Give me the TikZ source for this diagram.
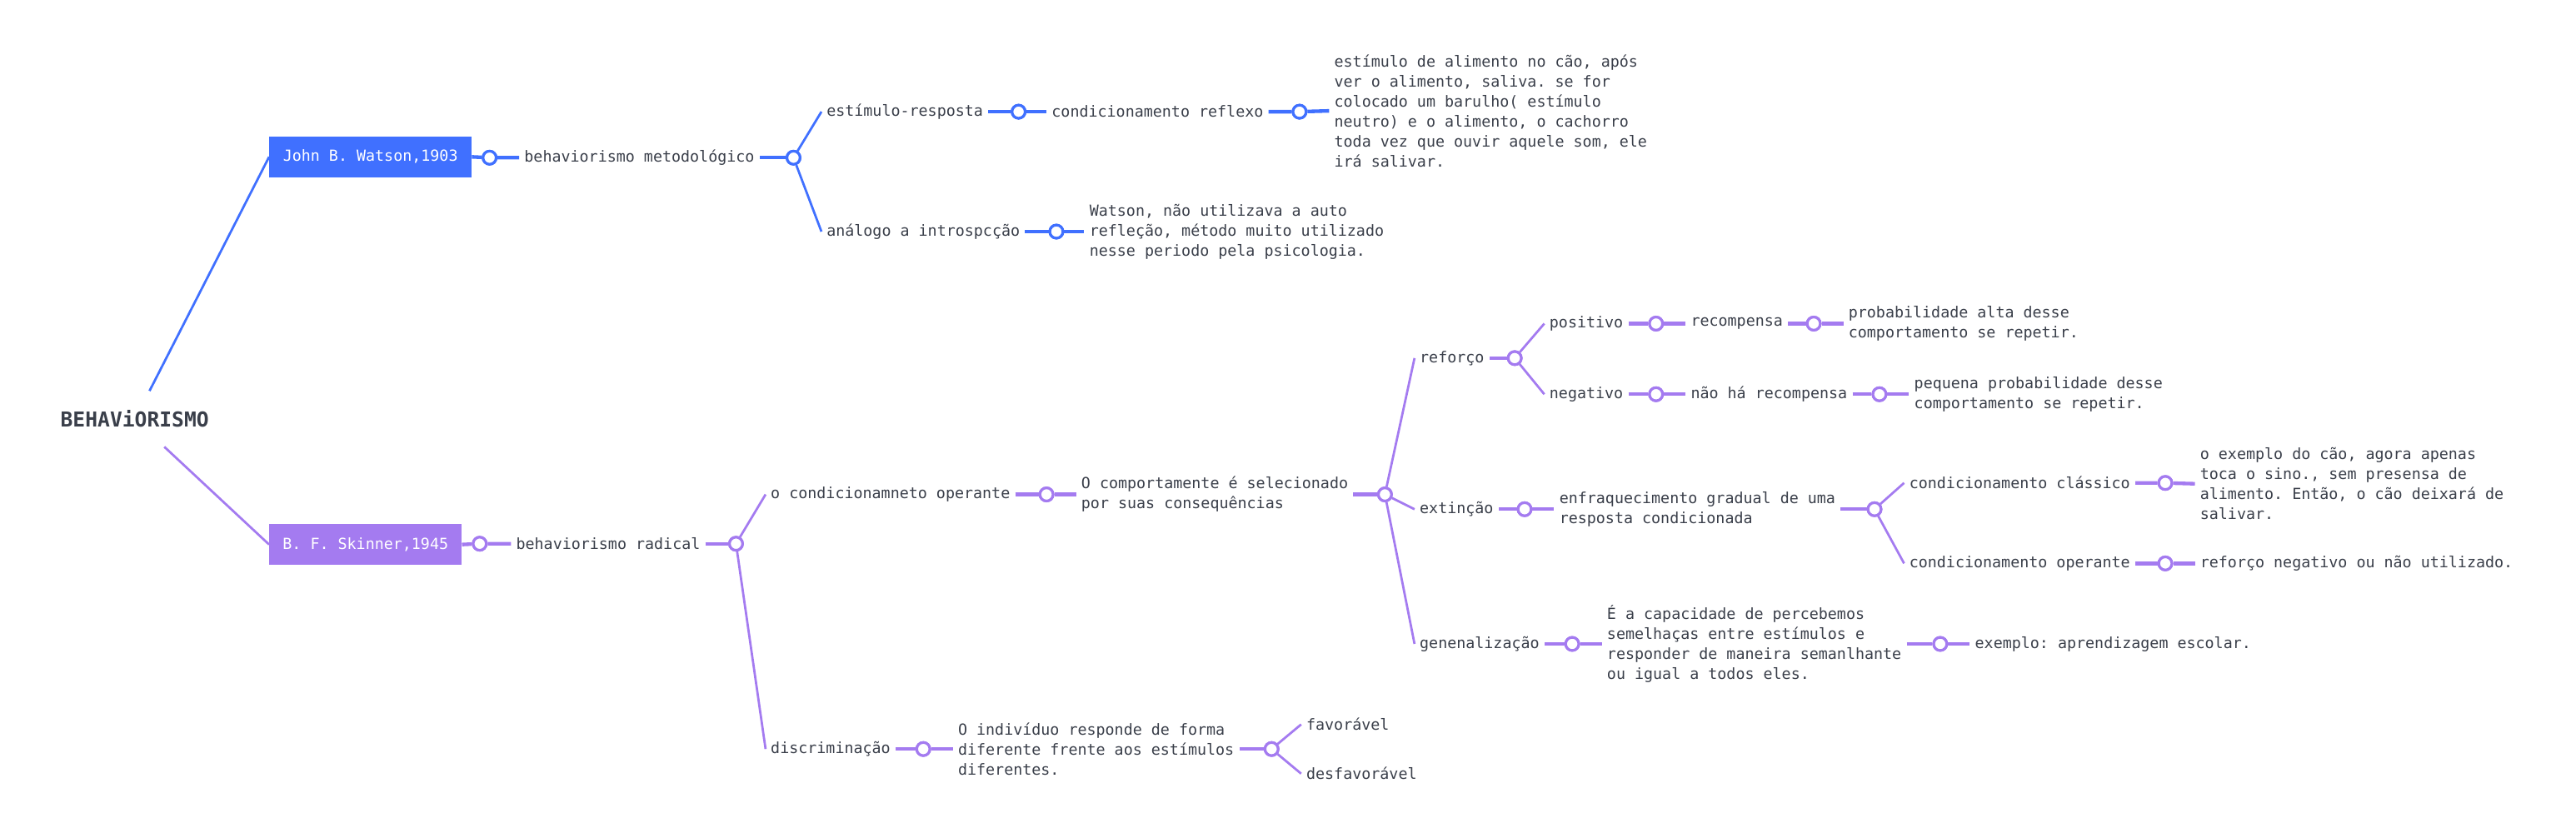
\documentclass[tikz,border=0pt]{standalone}
\usepackage{fontspec}
\setmonofont{DejaVu Sans Mono}
\definecolor{bl}{HTML}{4070FF}
\definecolor{pu}{HTML}{A47BF0}
\definecolor{tx}{HTML}{3A3F4A}
\begin{document}
\begin{tikzpicture}[x=1pt,y=-1pt,
  t/.style={anchor=west,inner xsep=3pt,inner ysep=1pt,font=\ttfamily\fontsize{9.3}{12.2}\selectfont,text=tx,align=left},
  cb/.style={circle,draw=bl,fill=white,line width=1.6pt,minimum size=8pt,inner sep=0pt},
  cp/.style={circle,draw=pu,fill=white,line width=1.6pt,minimum size=8pt,inner sep=0pt},
  lb/.style={draw=bl,line width=1.4pt},
  lp/.style={draw=pu,line width=1.4pt},
  sb/.style={draw=bl,line width=2.2pt},
  sp/.style={draw=pu,line width=2.2pt}]
\useasboundingbox (0,0) rectangle (1568,510);
\node[font=\ttfamily\bfseries\fontsize{12.5}{14}\selectfont,text=tx] (root) at (82,255) {BEHAViORISMO};
\coordinate (r1) at (91,238); \coordinate (r2) at (100,272);
% Watson
\node[fill=bl,text=white,font=\ttfamily\fontsize{9.3}{12}\selectfont,minimum width=123pt,minimum height=25pt,inner sep=0pt] (w) at (225.5,95.5) {John B. Watson,1903};
\draw[lb] (r1) -- (w.west);
\node[cb] (wc) at (298,96) {};
\node[t] (bm) at (316,96) {behaviorismo metodológico};
\node[cb] (bmc) at (483,96) {};
\node[t] (er) at (500,68) {estímulo-resposta};
\node[cb] (erc) at (620,68) {};
\node[t] (cr) at (637,68) {condicionamento reflexo};
\node[cb] (crc) at (791,68) {};
\node[t] (crt) at (809,67.5) {estímulo de alimento no cão, após\\ver  o alimento, saliva. se for\\colocado um barulho( estímulo\\neutro)  e o alimento, o cachorro\\toda vez que ouvir aquele som, ele\\irá salivar.};
\node[t] (ai) at (500,141) {análogo a introspcção};
\node[cb] (aic) at (643,141) {};
\node[t] (ait) at (660,141) {Watson, não utilizava a auto\\refleção, método muito utilizado\\nesse periodo pela psicologia.};
\draw[sb] (w.east) -- (wc) -- (bm.west);
\draw[sb] (bm.east) -- (bmc);
\draw[lb] (bmc) -- (er.west); \draw[lb] (bmc) -- (ai.west);
\draw[sb] (er.east) -- (erc) -- (cr.west);
\draw[sb] (cr.east) -- (crc) -- (crt.west);
\draw[sb] (ai.east) -- (aic) -- (ait.west);
\foreach \n in {wc,bmc,erc,crc,aic} \node[cb] at (\n) {};
% Skinner
\node[fill=pu,text=white,font=\ttfamily\fontsize{9.3}{12}\selectfont,minimum width=117pt,minimum height=25pt,inner sep=0pt] (s) at (222.5,331.5) {B. F. Skinner,1945};
\draw[lp] (r2) -- (s.west);
\node[cp] (sc) at (292,331) {};
\node[t] (br) at (311,331) {behaviorismo radical};
\node[cp] (brc) at (448,331) {};
\node[t] (co) at (466,301) {o condicionamneto operante};
\node[cp] (coc) at (637,301) {};
\node[t] (cot) at (655,301) {O comportamente é selecionado\\por suas consequências};
\node[cp] (cotc) at (843,301) {};
\node[t] (re) at (861,218) {reforço};
\node[cp] (rec) at (922,218) {};
\node[t] (po) at (940,197) {positivo};
\node[cp] (poc) at (1008,197) {};
\node[t] (rc) at (1026,197) {recompensa};
\node[cp] (rcc) at (1104,197) {};
\node[t] (rct) at (1122,197) {probabilidade alta desse\\comportamento se repetir.};
\node[t] (ne) at (940,240) {negativo};
\node[cp] (nec) at (1008,240) {};
\node[t] (nr) at (1026,240) {não há recompensa};
\node[cp] (nrc) at (1144,240) {};
\node[t] (nrt) at (1162,240) {pequena probabilidade desse\\comportamento se repetir.};
\node[t] (ex) at (861,310) {extinção};
\node[cp] (exc) at (928,310) {};
\node[t] (ext) at (946,310) {enfraquecimento gradual de uma\\resposta condicionada};
\node[cp] (extc) at (1141,310) {};
\node[t] (cc) at (1159,294) {condicionamento clássico};
\node[cp] (ccc) at (1318,294) {};
\node[t] (cct) at (1336,294.5) {o exemplo do cão, agora apenas\\toca o sino., sem presensa de\\alimento. Então, o cão deixará de\\salivar.};
\node[t] (op) at (1159,343) {condicionamento operante};
\node[cp] (opc) at (1318,343) {};
\node[t] (opt) at (1336,343) {reforço negativo ou não utilizado.};
\node[t] (ge) at (861,392) {genenalização};
\node[cp] (gec) at (957,392) {};
\node[t] (get) at (975,392) {É a capacidade de percebemos\\semelhaças entre estímulos e\\responder de maneira semanlhante\\ou igual a todos eles.};
\node[cp] (getc) at (1181,392) {};
\node[t] (ga) at (1199,392) {exemplo: aprendizagem escolar.};
\node[t] (di) at (466,456) {discriminação};
\node[cp] (dic) at (562,456) {};
\node[t] (dit) at (580,456) {O indivíduo responde de forma\\diferente frente aos estímulos\\diferentes.};
\node[cp] (ditc) at (774,456) {};
\node[t] (fa) at (792,441) {favorável};
\node[t] (de) at (792,471) {desfavorável};
\draw[sp] (s.east) -- (sc) -- (br.west);
\draw[sp] (br.east) -- (brc);
\draw[lp] (brc) -- (co.west); \draw[lp] (brc) -- (di.west);
\draw[sp] (co.east) -- (coc) -- (cot.west);
\draw[sp] (cot.east) -- (cotc);
\draw[lp] (cotc) -- (re.west); \draw[lp] (cotc) -- (ex.west); \draw[lp] (cotc) -- (ge.west);
\draw[sp] (re.east) -- (rec);
\draw[lp] (rec) -- (po.west); \draw[lp] (rec) -- (ne.west);
\draw[sp] (po.east) -- (poc) -- (rc.west);
\draw[sp] (rc.east) -- (rcc) -- (rct.west);
\draw[sp] (ne.east) -- (nec) -- (nr.west);
\draw[sp] (nr.east) -- (nrc) -- (nrt.west);
\draw[sp] (ex.east) -- (exc) -- (ext.west);
\draw[sp] (ext.east) -- (extc);
\draw[lp] (extc) -- (cc.west); \draw[lp] (extc) -- (op.west);
\draw[sp] (cc.east) -- (ccc) -- (cct.west);
\draw[sp] (op.east) -- (opc) -- (opt.west);
\draw[sp] (ge.east) -- (gec) -- (get.west);
\draw[sp] (get.east) -- (getc) -- (ga.west);
\draw[sp] (di.east) -- (dic) -- (dit.west);
\draw[sp] (dit.east) -- (ditc);
\draw[lp] (ditc) -- (fa.west); \draw[lp] (ditc) -- (de.west);
\foreach \n in {sc,brc,coc,cotc,rec,poc,rcc,nec,nrc,exc,extc,ccc,opc,gec,getc,dic,ditc} \node[cp] at (\n) {};
\end{tikzpicture}
\end{document}
